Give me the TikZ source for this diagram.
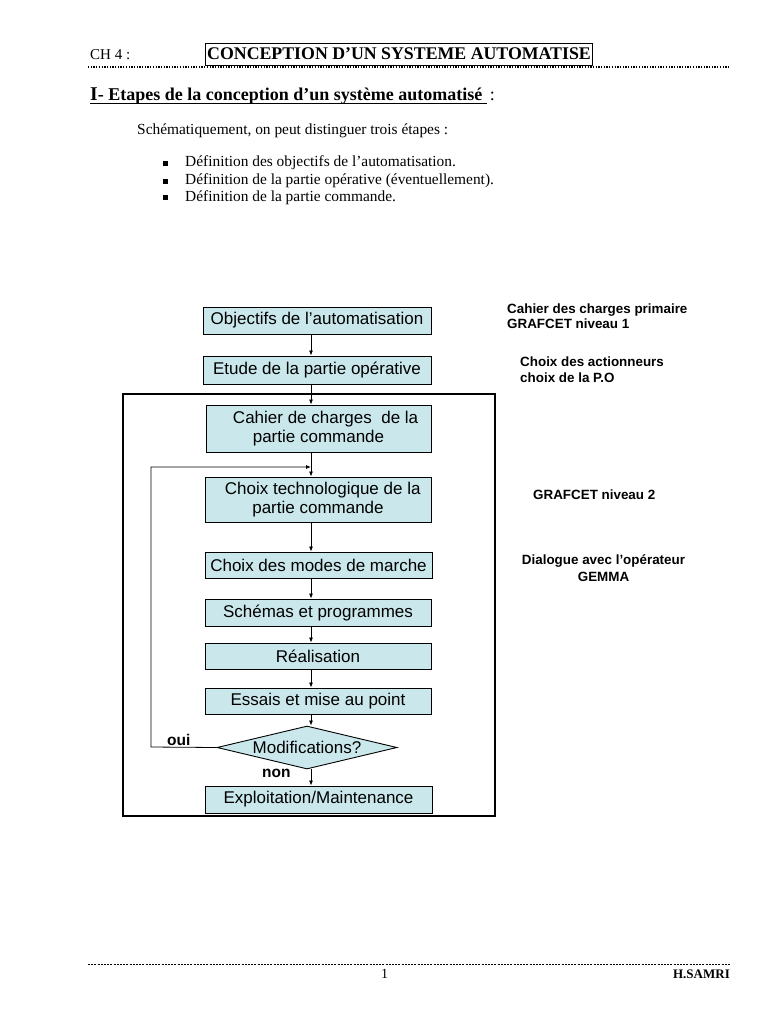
\documentclass[tikz,border=0pt]{standalone}
\usepackage{fontspec}
\setmainfont{Liberation Serif}
\newfontfamily\arial{Liberation Sans}
\usetikzlibrary{shapes.geometric,arrows.meta}
\definecolor{boxfill}{RGB}{202,232,236}
\begin{document}
\begin{tikzpicture}[x=1pt,y=-1pt,
  box/.style={draw=black, fill=boxfill, line width=0.9pt, inner sep=0pt, align=center,
    font=\arial\fontsize{17}{19}\selectfont},
  dia/.style={draw=black, fill=boxfill, line width=0.9pt, diamond, aspect=4.2, inner sep=0pt,
    font=\arial\fontsize{17}{19}\selectfont},
  arr/.style={-{Latex[length=5pt,width=4pt]}, line width=0.8pt},
  ser/.style={anchor=west, inner sep=0pt, font=\fontsize{15.4}{17}\selectfont},
  side/.style={anchor=west, inner sep=0pt, align=left, font=\arial\bfseries\fontsize{13.4}{16}\selectfont},
  lbl/.style={inner sep=0pt, font=\arial\bfseries\fontsize{15.5}{17}\selectfont}]
\useasboundingbox[fill=white] (0,0) rectangle (768,1024);

% header
\node[ser, font=\fontsize{15}{17}\selectfont] (ch) at (90,55) {CH 4 :};
\node[draw=black, line width=0.9pt, inner xsep=1.5pt, inner ysep=0pt, minimum height=22pt, font=\bfseries\fontsize{17.8}{19}\selectfont] (titre) at (399,54) {CONCEPTION D’UN SYSTEME AUTOMATISE};
\coordinate (hl) at (88,67);
\coordinate (hr) at (730,67);
\draw[line width=1.1pt, dash pattern=on 1.3pt off 1.4pt] (hl) -- (hr);

% section title
\node[ser, font=\bfseries\fontsize{18}{20}\selectfont] (sec) at (90,96) {{\fontsize{19.5}{20}\selectfont I}- Etapes de la conception d’un système automatisé\ \,\mdseries:};
\coordinate (ul) at (90,103.5);
\coordinate (ur) at (487,103.5);
\draw[line width=1.3pt] (ul) -- (ur);

\node[ser] (intro) at (137,131) {Schématiquement, on peut distinguer trois étapes :};
\foreach \yy in {164,182,198}{\fill (162.5,\yy-2.5) rectangle (167.5,\yy+2.5);}
\node[ser] (p1) at (185,163) {Définition des objectifs de l’automatisation.};
\node[ser] (p2) at (185,181) {Définition de la partie opérative (éventuellement).};
\node[ser] (p3) at (185,198) {Définition de la partie commande.};

% big frame
\draw[line width=1.8pt] (123,394) rectangle (495,816);

% boxes
\node[box, minimum width=228pt, minimum height=27pt] (b1) at (317,320.5) {Objectifs de l’automatisation};
\node[box, minimum width=228pt, minimum height=28pt] (b2) at (317,370) {Etude de la partie opérative};
\node[box, minimum width=225pt, minimum height=47pt] (b3) at (318.5,428.5) {\ \ \ Cahier de charges\ \ de la\\partie commande};
\node[box, minimum width=226pt, minimum height=45pt] (b4) at (318,499.5) {\ \ Choix technologique de la\\partie commande};
\node[box, minimum width=227pt, minimum height=26pt] (b5) at (318.5,565) {Choix des modes de marche};
\node[box, minimum width=226pt, minimum height=27pt] (b6) at (318,612.5) {Schémas et programmes};
\node[box, minimum width=226pt, minimum height=26pt] (b7) at (318,656) {Réalisation};
\node[box, minimum width=226pt, minimum height=26pt] (b8) at (318,701) {Essais et mise au point};
\node[dia, minimum width=180pt, minimum height=43pt] (d) at (307,747.5) {Modifications?};
\node[box, minimum width=227pt, minimum height=27pt] (b9) at (318.5,799.5) {Exploitation/Maintenance};

\coordinate (col) at (311,0);
\coordinate (join) at (311,467);
\coordinate (loopx) at (151,747);

\draw[arr] (b1.south -| col) -- (b2.north -| col);
\draw[arr] (b2.south -| col) -- (b3.north -| col);
\draw[arr] (b3.south -| col) -- (b4.north -| col);
\draw[arr] (b4.south -| col) -- (b5.north -| col);
\draw[arr] (b5.south -| col) -- (b6.north -| col);
\draw[arr] (b6.south -| col) -- (b7.north -| col);
\draw[arr] (b7.south -| col) -- (b8.north -| col);
\draw[arr] (b8.south -| col) -- (d.north -| col);
\draw[arr] (d.south -| col) -- (b9.north -| col);
\draw[arr] (d.west) -- (loopx) |- (join);

\node[lbl, anchor=west] (oui) at (167,740) {oui};
\node[lbl, anchor=west] (non) at (262,773) {non};

% side notes
\node[side, font=\arial\bfseries\fontsize{13.4}{15.5}\selectfont] (n1) at (507,316) {Cahier des charges primaire\\GRAFCET niveau 1};
\node[side] (n2) at (520,370) {Choix des actionneurs\\choix de la P.O};
\node[side] (n3) at (533,495) {GRAFCET niveau 2};
\node[side, align=center, anchor=center, font=\arial\bfseries\fontsize{13.4}{17}\selectfont] (n4) at (603.5,568.5) {Dialogue avec l’opérateur\\GEMMA};

% footer
\coordinate (fl) at (88,964);
\coordinate (fr) at (730,964);
\draw[line width=0.8pt, dash pattern=on 2pt off 1.2pt] (fl) -- (fr);
\node[ser, font=\fontsize{14}{16}\selectfont] (num) at (381,974) {1};
\node[ser, font=\bfseries\fontsize{13}{15}\selectfont, anchor=east] (auth) at (730,974) {H.SAMRI};
\end{tikzpicture}
\end{document}
